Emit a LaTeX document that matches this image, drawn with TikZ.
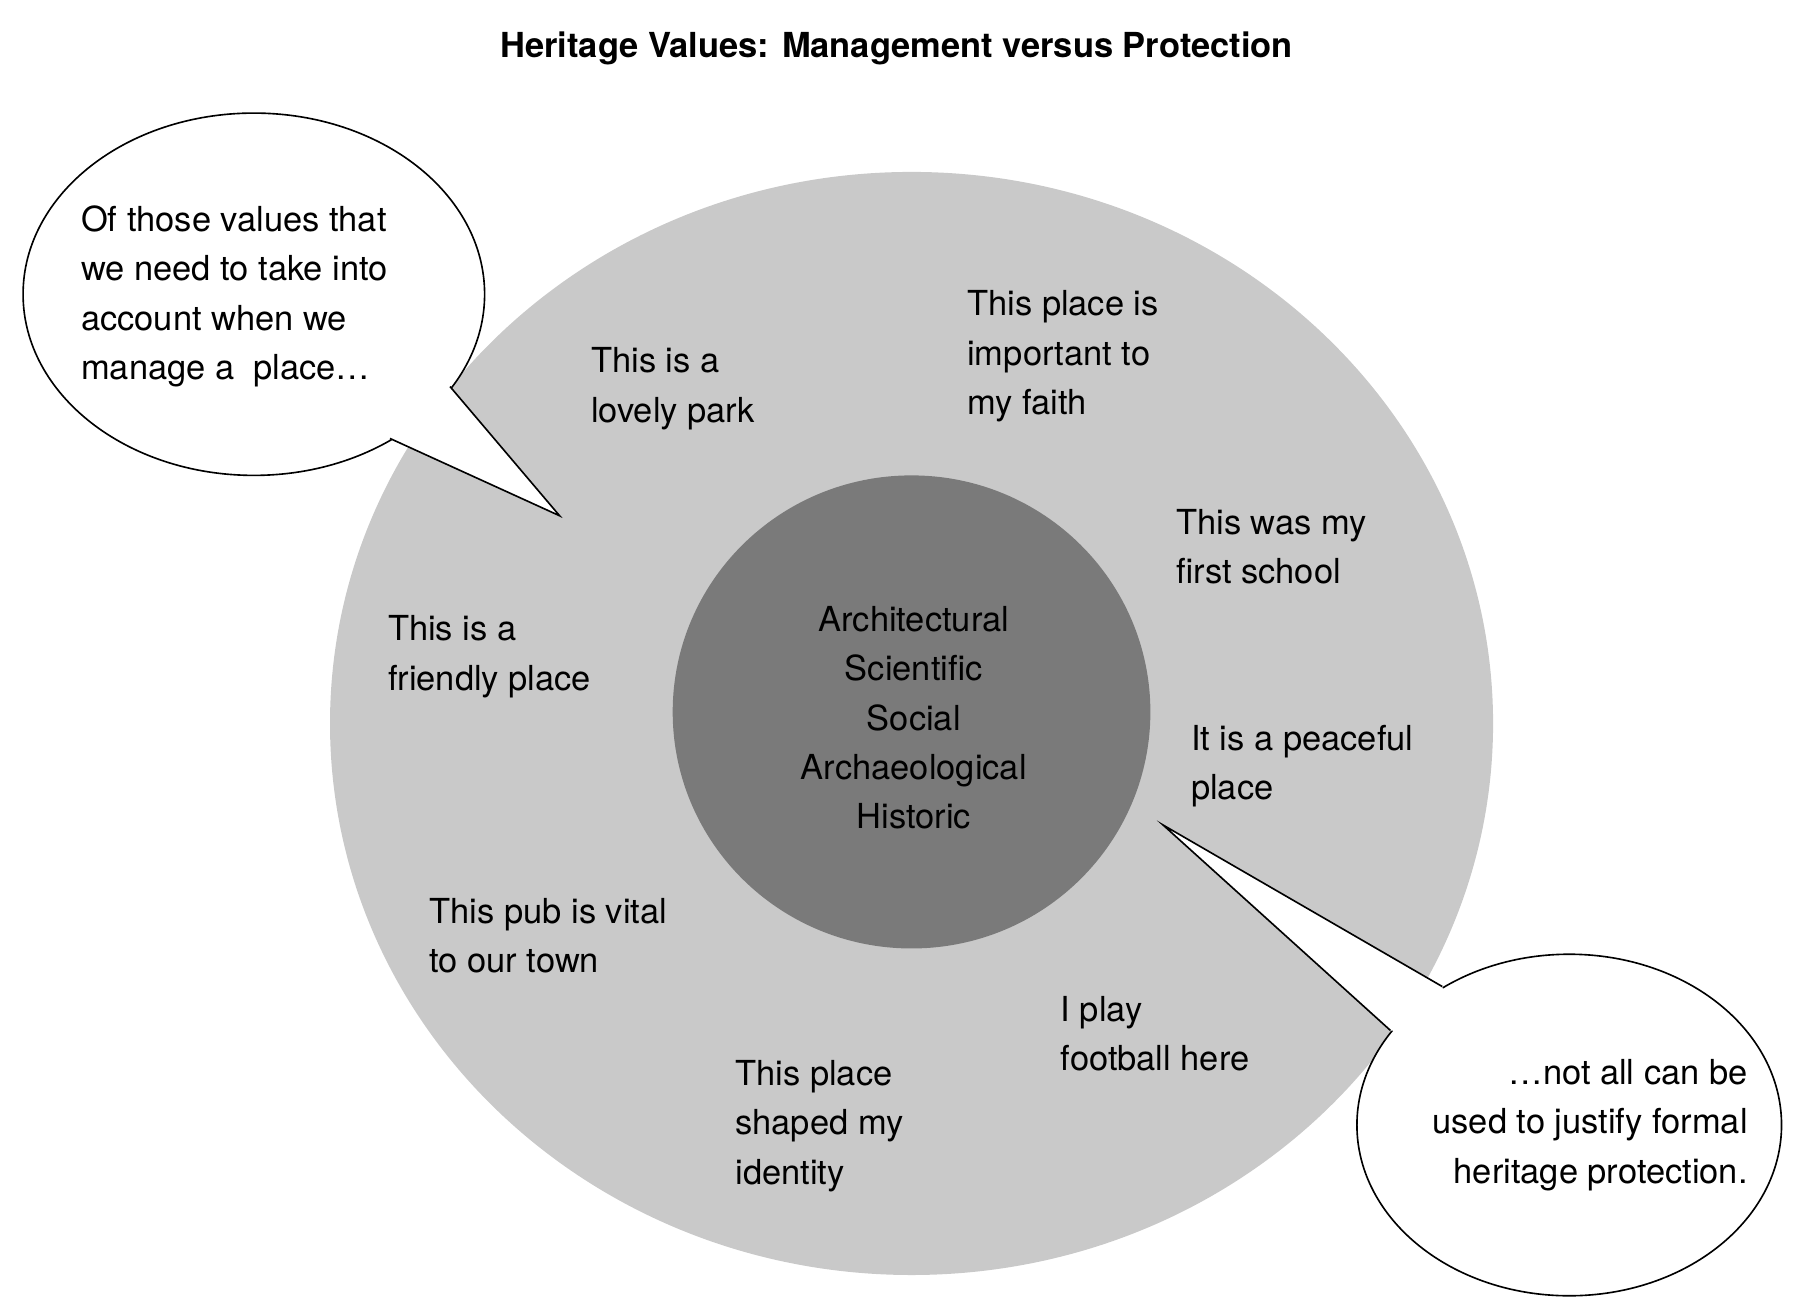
\documentclass[tikz,border=0pt]{standalone}
\usepackage{fontspec}
\setmainfont{TeX Gyre Heros}
\begin{document}
\begin{tikzpicture}[x=0.02cm,y=-0.02cm,
  txt/.style={font=\fontsize{17}{24.4}\selectfont,align=left,anchor=west,inner sep=0},
  ctr/.style={font=\fontsize{17}{24.4}\selectfont,align=center,inner sep=0},
  bub/.style={draw=black,fill=white,line width=0.8pt}]
\useasboundingbox (0,0) rectangle (1560,1140);
\node[font=\bfseries\fontsize{17}{20}\selectfont] (title) at (777,42) {Heritage Values: Management versus Protection};
\fill[black!21] (790,627) ellipse [x radius=504, y radius=478];
\fill[black!52] (790,617) ellipse [x radius=207, y radius=205];
\node[ctr] (core) at (792,622) {Architectural\\Scientific\\Social\\Archaeological\\Historic};
\node[txt] (t1) at (512,337) {This is a\\lovely park};
\node[txt] (t2) at (838,309) {This place is\\important to\\my faith};
\node[txt] (t3) at (1019,474) {This was my\\first school};
\node[txt] (t4) at (336,569) {This is a\\friendly place};
\node[txt] (t5) at (1032,664) {It is a peaceful\\place};
\node[txt] (t6) at (372,811) {This pub is vital\\to our town};
\node[txt] (t7) at (919,896) {I play\\football here};
\node[txt] (t8) at (637,976) {This place\\shaped my\\identity};
% left bubble
\draw[bub] (220,255) ellipse [x radius=200, y radius=157];
\coordinate (la) at (390,335); \coordinate (lt) at (485,447); \coordinate (lb) at (338,380);
\fill[white] (la) -- (lt) -- (lb) -- (335,330) -- cycle;
\draw[line width=0.8pt] (la) -- (lt) -- (lb);
\node[txt] (lbt) at (70,257) {Of those values that\\we need to take into\\account when we\\manage a\ \ place…};
% right bubble
\draw[bub] (1360,975) ellipse [x radius=184, y radius=148];
\coordinate (ra) at (1250,855); \coordinate (rt) at (1008,715); \coordinate (rb) at (1205,893);
\fill[white] (ra) -- (rt) -- (rb) -- (1260,900) -- cycle;
\draw[line width=0.8pt] (ra) -- (rt) -- (rb);
\node[font=\fontsize{17}{24.4}\selectfont,align=right,anchor=east,inner sep=0] (rbt) at (1515,975) {…not all can be\\used to justify formal\\heritage protection.};
\end{tikzpicture}
\end{document}
